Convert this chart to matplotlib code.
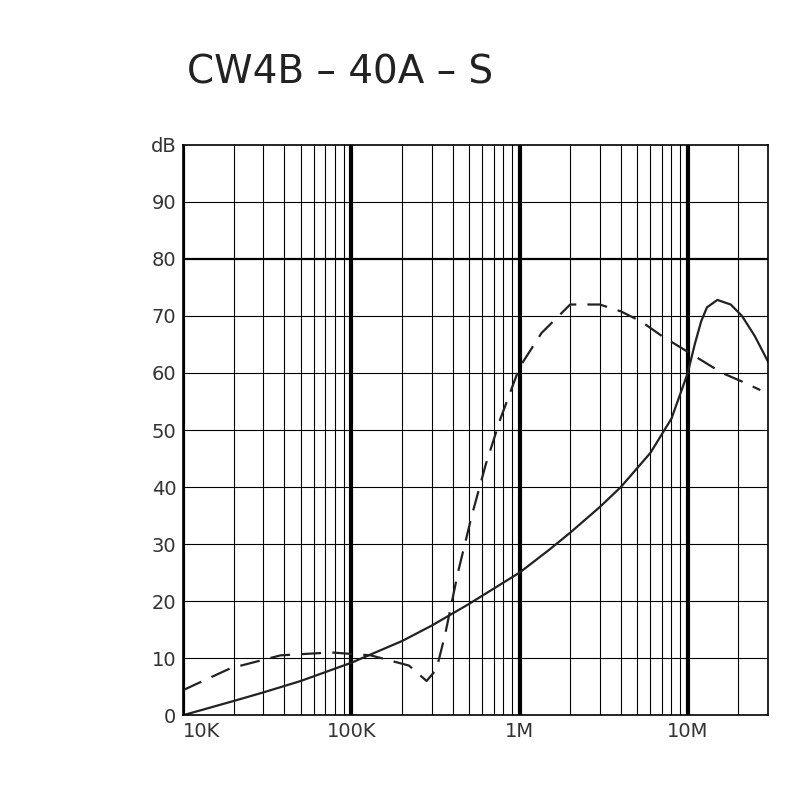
import numpy as np
import matplotlib.pyplot as plt

# frequency (Hz) and attenuation (dB)
solid_f = [1e4, 2e4, 3e4, 5e4, 1e5, 2e5, 3e5, 5e5, 1e6, 1.5e6, 2e6, 3e6, 4e6, 6e6, 8e6, 1e7,
           1.1e7, 1.2e7, 1.3e7, 1.5e7, 1.8e7, 2.1e7, 2.5e7, 3e7]
solid_db = [0, 2.5, 4, 6, 9.2, 13, 15.7, 19.5, 25, 29, 32, 36.5, 40, 46, 52, 60,
            65, 69, 71.5, 72.8, 72, 70, 66.5, 62]

dash_f = [1e4, 1.9e4, 3.8e4, 7.6e4, 1.3e5, 2.2e5, 2.8e5, 3.2e5, 3.6e5, 4.3e5, 5.2e5, 6.3e5, 7.7e5,
          1e6, 1.35e6, 2e6, 3e6, 4e6, 5.3e6, 7e6, 1e7, 1.6e7, 2.1e7, 2.7e7]
dash_db = [4.4, 8.2, 10.5, 11, 10.5, 8.7, 6, 8, 14, 25, 35, 44, 52,
           61, 67, 72, 72, 70.8, 69, 66.5, 63.7, 60, 58.5, 57]

fig = plt.figure(figsize=(8, 8), dpi=100)
ax = fig.add_axes([0.229, 0.106, 0.731, 0.713])
ax.set_xscale('log')
ax.set_xlim(1e4, 3e7)
ax.set_ylim(0, 100)

for d in [1e4, 1e5, 1e6]:
    for k in range(2, 10):
        ax.axvline(d * k, color='black', lw=0.8)
for d in [1e4, 1e5, 1e6, 1e7]:
    ax.axvline(d, color='black', lw=3)
ax.axvline(2e7, color='black', lw=0.8)
for y in range(10, 100, 10):
    ax.axhline(y, color='black', lw=1.6 if y == 80 else 0.8)

ax.plot(solid_f, solid_db, color='#222222', lw=1.6)
ax.plot(dash_f, dash_db, color='#222222', lw=1.6, dashes=(9, 5))

ax.set_yticks(list(range(0, 101, 10)))
ax.set_yticklabels([str(v) for v in range(0, 100, 10)] + ['dB'])
ax.set_xticks([1e4, 1e5, 1e6, 1e7])
ax.set_xticklabels(['10K', '100K', '1M', '10M'])
ax.get_xticklabels()[0].set_ha('left')
ax.minorticks_off()
ax.tick_params(length=0, labelsize=14, colors='#333333', pad=5)
for s in ax.spines.values():
    s.set_linewidth(1.2)

fig.text(0.425, 0.91, 'CW4B – 40A – S', fontsize=28, ha='center', va='center', color='#222222')
fig.savefig('out.png')
